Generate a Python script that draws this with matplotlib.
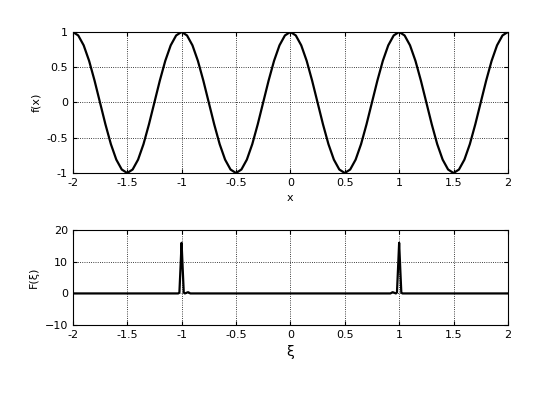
import matplotlib
matplotlib.use('Agg')
import matplotlib.pyplot as plt
import numpy as np

period_vals = [1, 0.95, 0.81, 0.59, 0.31, 0, -0.31, -0.59, -0.81, -0.95,
               -1, -0.95, -0.81, -0.59, -0.31, 0, 0.31, 0.59, 0.81, 0.95]
x_top = np.linspace(-2, 2, 81)
f_top = list(period_vals) * 4 + [1]

# bottom panel: spectrum, flat except narrow peaks at +-1
xi = [-2, -1.06, -1.03, -1.02, -1.01, -1.0, -0.99, -0.98, -0.97, -0.94, -0.92, -0.9,
      0.9, 0.92, 0.94, 0.97, 0.98, 0.99, 1.0, 1.01, 1.02, 1.03, 1.06, 2]
F_xi = [0, 0, 0, 0.3, 8, 16, 8, 0.3, 0, 0.4, 0, 0,
        0, 0, 0.4, 0, 0.3, 8, 16, 8, 0.3, 0, 0, 0]

plt.rcParams['font.family'] = ['DejaVu Sans']
plt.rcParams['font.size'] = 8
fig = plt.figure(figsize=(5.6, 4.2), dpi=100)
ax1 = fig.add_axes([0.130, 0.588, 0.777, 0.336])
ax2 = fig.add_axes([0.130, 0.226, 0.777, 0.226])

ax1.plot(x_top, f_top, color='k', lw=1.6)
ax1.set_xlim(-2, 2)
ax1.set_ylim(-1, 1)
ax1.set_yticks([-1, -0.5, 0, 0.5, 1])
ax1.set_yticklabels(['-1', '-0.5', '0', '0.5', '1'])
ax1.set_xlabel('x')
ax1.set_ylabel('f(x)')

ax2.plot(xi, F_xi, color='k', lw=1.6)
ax2.set_xlim(-2, 2)
ax2.set_ylim(-10, 20)
ax2.set_yticks([-10, 0, 10, 20])
ax2.set_xlabel('ξ', fontsize=10)
ax2.set_ylabel('F(ξ)')

for ax in (ax1, ax2):
    ax.set_xticks([-2, -1.5, -1, -0.5, 0, 0.5, 1, 1.5, 2])
    ax.set_xticklabels(['-2', '-1.5', '-1', '-0.5', '0', '0.5', '1', '1.5', '2'])
    ax.grid(True, linestyle=':', color='k', lw=0.6)
    ax.tick_params(direction='in', top=True, right=True, length=3)

fig.savefig('out.png', dpi=100, facecolor='white')
